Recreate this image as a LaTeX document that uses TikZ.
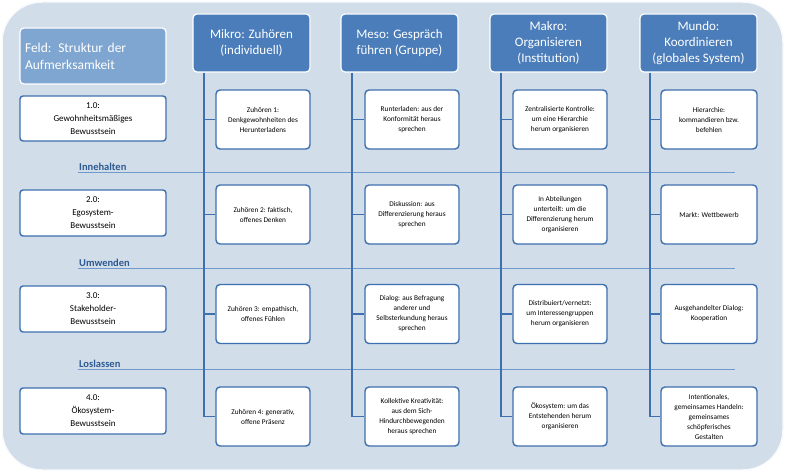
\documentclass[tikz,border=0pt]{standalone}
\usepackage{fontspec}
\setmainfont{Carlito}
\begin{document}
\begin{tikzpicture}[x=1pt,y=-1pt,
  hdr/.style={draw=white,line width=1.2pt,fill=hdrc,rounded corners=4pt,text=white,align=center,font=\fontsize{13}{16}\selectfont,inner sep=1pt,minimum width=117pt,minimum height=58pt},
  lbox/.style={draw=boxb,line width=1.4pt,fill=white,rounded corners=3pt,align=center,font=\fontsize{9}{13}\selectfont,inner sep=1pt,minimum width=146pt,minimum height=46pt},
  cbox/.style={draw=boxb,line width=1.4pt,fill=white,rounded corners=4pt,align=center,font=\fontsize{7.3}{10}\selectfont,inner sep=1pt,minimum width=94pt,minimum height=59pt},
  trunk/.style={draw=boxb,line width=1.3pt},
  sep/.style={draw=sepc,line width=0.9pt},
  slab/.style={anchor=south west,text=labc,font=\bfseries\fontsize{10.5}{12}\selectfont,inner sep=1pt}]
\definecolor{bgc}{HTML}{D1DDE9}
\definecolor{hdrc}{HTML}{4A7DB9}
\definecolor{feldc}{HTML}{7EA6D0}
\definecolor{boxb}{HTML}{3E6FAE}
\definecolor{sepc}{HTML}{6F9ACB}
\definecolor{labc}{HTML}{2E5A92}
\useasboundingbox (0,0) rectangle (785,473);
\draw[fill=bgc,draw=white!85!bgc,line width=1.5pt,rounded corners=40pt] (2,2) rectangle (783,470);
% separators
\foreach \y/\t/\n in {172/Innehalten/s1,268/Umwenden/s2,369/Loslassen/s3}{
  \coordinate (\n a) at (78,\y); \coordinate (\n b) at (735,\y);
  \draw[sep] (\n a) -- (\n b);
  \node[slab] (\n l) at (\n a) {\t};
}
% feld column
\node[draw=white,line width=1.2pt,fill=feldc,rounded corners=4pt,text=white,align=left,font=\fontsize{13.5}{17}\selectfont,minimum width=146pt,minimum height=56pt,text width=136pt] (feld) at (93,56) {Feld: Struktur der\\Aufmerksamkeit};
\node[lbox,minimum height=45pt] (l1) at (93,118.5) {1.0:\\Gewohnheitsmäßiges\\Bewusstsein};
\node[lbox] (l2) at (93,213) {2.0:\\Egosystem-\\Bewusstsein};
\node[lbox] (l3) at (93,309) {3.0:\\Stakeholder-\\Bewusstsein};
\node[lbox] (l4) at (93,411) {4.0:\\Ökosystem-\\Bewusstsein};
% headers
\node[hdr] (h1) at (251.5,43) {Mikro: Zuhören\\(individuell)};
\node[hdr] (h2) at (399.5,43) {Meso: Gespräch\\führen (Gruppe)};
\node[hdr] (h3) at (548.5,43) {Makro:\\Organisieren\\(Institution)};
\node[hdr] (h4) at (698.5,43) {Mundo:\\Koordinieren\\(globales System)};
\foreach \c/\tx in {1/204,2/352,3/501,4/650}{ \coordinate (t\c) at (\tx,72); }
% children
\node[cbox] (c11) at (263,119.5) {Zuhören 1:\\Denkgewohnheiten des\\Herunterladens};
\node[cbox] (c12) at (263,214.5) {Zuhören 2: faktisch,\\offenes Denken};
\node[cbox] (c13) at (263,314) {Zuhören 3: empathisch,\\offenes Fühlen};
\node[cbox] (c14) at (263,416.5) {Zuhören 4: generativ,\\offene Präsenz};
\node[cbox] (c21) at (412,119.5) {Runterladen: aus der\\Konformität heraus\\sprechen};
\node[cbox] (c22) at (412,214.5) {Diskussion: aus\\Differenzierung heraus\\sprechen};
\node[cbox] (c23) at (412,314) {Dialog: aus Befragung\\anderer und\\Selbsterkundung heraus\\sprechen};
\node[cbox] (c24) at (412,416.5) {Kollektive Kreativität:\\aus dem Sich-\\Hindurchbewegenden\\heraus sprechen};
\node[cbox] (c31) at (560,119.5) {Zentralisierte Kontrolle:\\um eine Hierarchie\\herum organisieren};
\node[cbox] (c32) at (560,214.5) {In Abteilungen\\unterteilt: um die\\Differenzierung herum\\organisieren};
\node[cbox] (c33) at (560,314) {Distribuiert/vernetzt:\\um Interessengruppen\\herum organisieren};
\node[cbox] (c34) at (560,416.5) {Ökosystem: um das\\Entstehenden herum\\organisieren};
\node[cbox,minimum width=96pt] (c41) at (709,119.5) {Hierarchie:\\kommandieren bzw.\\befehlen};
\node[cbox,minimum width=96pt] (c42) at (709,214.5) {Markt: Wettbewerb};
\node[cbox,minimum width=96pt] (c43) at (709,314) {Ausgehandelter Dialog:\\Kooperation};
\node[cbox,minimum width=96pt] (c44) at (709,416.5) {Intentionales,\\gemeinsames Handeln:\\gemeinsames\\schöpferisches\\Gestalten};
% trunks
\foreach \c in {1,2,3,4}{
  \draw[trunk] (h\c.south -| t\c) |- (c\c4.west);
  \foreach \r in {1,2,3}{ \draw[trunk] (t\c |- c\c\r.west) -- (c\c\r.west); }
}
\end{tikzpicture}
\end{document}
